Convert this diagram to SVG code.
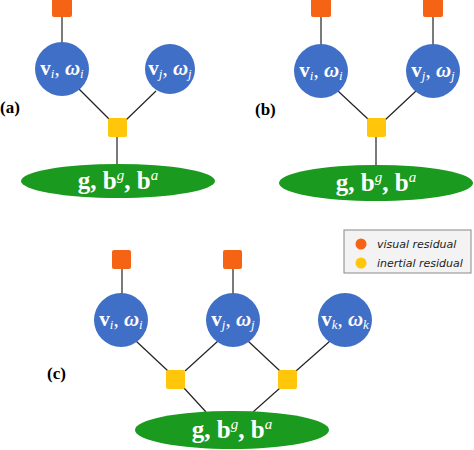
<svg xmlns="http://www.w3.org/2000/svg" width="474" height="450" viewBox="0 0 474 450">
<style>
.var{fill:#3f6fc6}
.vis{fill:#f46414}
.ine{fill:#ffc60a}
.bias{fill:#1a9a1f}
.edge{stroke:#222;stroke-width:1.2;fill:none}
.vt{font-family:"Liberation Serif",serif;font-size:21px;fill:#fff;text-anchor:middle}
.sb{font-size:13px;font-style:italic}
.bt{font-family:"Liberation Serif",serif;font-size:25px;font-weight:bold;fill:#fff;text-anchor:middle}
.sp{font-size:15px;font-weight:normal;font-style:italic}
.lab{font-family:"Liberation Serif",serif;font-size:17px;font-weight:bold;fill:#000}
.leg{font-family:"DejaVu Sans",sans-serif;font-size:11px;font-style:italic;fill:#222}
</style>
<rect width="474" height="450" fill="#fff"/>
<g id="connectors">
<line class="edge" x1="62" y1="16" x2="62" y2="43"/>
<line class="edge" x1="79" y1="89" x2="110" y2="120"/>
<line class="edge" x1="156" y1="91" x2="126" y2="120"/>
<line class="edge" x1="117" y1="137" x2="117" y2="166"/>
<line class="edge" x1="321" y1="16" x2="321" y2="45"/>
<line class="edge" x1="433" y1="16" x2="433" y2="45"/>
<line class="edge" x1="338" y1="91" x2="369" y2="120"/>
<line class="edge" x1="416" y1="91" x2="385" y2="120"/>
<line class="edge" x1="376" y1="137" x2="376" y2="165"/>
<line class="edge" x1="122" y1="268" x2="122" y2="295"/>
<line class="edge" x1="233" y1="268" x2="233" y2="295"/>
<line class="edge" x1="136" y1="341" x2="168" y2="371"/>
<line class="edge" x1="218" y1="341" x2="185" y2="371"/>
<line class="edge" x1="248" y1="341" x2="280" y2="371"/>
<line class="edge" x1="330" y1="341" x2="296" y2="371"/>
<line class="edge" x1="184" y1="388" x2="206" y2="412"/>
<line class="edge" x1="280" y1="388" x2="253" y2="412"/>
</g>
<g id="label-a"><text class="lab" x="0" y="113">(a)</text></g>
<g id="label-b"><text class="lab" x="255" y="115">(b)</text></g>
<g id="label-c"><text class="lab" x="47" y="379">(c)</text></g>
<g id="a-vis"><rect class="vis" x="52" y="-3" width="20" height="20" rx="2"/></g>
<g id="a-vi"><circle class="var" cx="62" cy="69" r="27"/><text class="vt" x="62" y="75"><tspan font-weight="bold">v</tspan><tspan class="sb" dy="3">i</tspan><tspan dy="-3">, </tspan><tspan font-weight="bold" font-style="italic">ω</tspan><tspan class="sb" dy="3">i</tspan></text></g>
<g id="a-vj"><circle class="var" cx="170" cy="69" r="25"/><text class="vt" x="170" y="75"><tspan font-weight="bold">v</tspan><tspan class="sb" dy="3">j</tspan><tspan dy="-3">, </tspan><tspan font-weight="bold" font-style="italic">ω</tspan><tspan class="sb" dy="3">j</tspan></text></g>
<g id="a-ine"><rect class="ine" x="108" y="118" width="19" height="19" rx="2"/></g>
<g id="a-bias"><ellipse class="bias" cx="118" cy="181" rx="97" ry="17"/><text class="bt" x="118" y="189">g, b<tspan class="sp" dy="-9">g</tspan><tspan dy="9">, b</tspan><tspan class="sp" dy="-9">a</tspan></text></g>
<g id="b-vis1"><rect class="vis" x="311" y="-3" width="20" height="20" rx="2"/></g>
<g id="b-vis2"><rect class="vis" x="423" y="-3" width="20" height="20" rx="2"/></g>
<g id="b-vi"><circle class="var" cx="321" cy="71" r="27"/><text class="vt" x="321" y="77"><tspan font-weight="bold">v</tspan><tspan class="sb" dy="3">i</tspan><tspan dy="-3">, </tspan><tspan font-weight="bold" font-style="italic">ω</tspan><tspan class="sb" dy="3">i</tspan></text></g>
<g id="b-vj"><circle class="var" cx="433" cy="71" r="27"/><text class="vt" x="433" y="77"><tspan font-weight="bold">v</tspan><tspan class="sb" dy="3">j</tspan><tspan dy="-3">, </tspan><tspan font-weight="bold" font-style="italic">ω</tspan><tspan class="sb" dy="3">j</tspan></text></g>
<g id="b-ine"><rect class="ine" x="367" y="118" width="19" height="19" rx="2"/></g>
<g id="b-bias"><ellipse class="bias" cx="376" cy="183" rx="97" ry="18"/><text class="bt" x="376" y="191">g, b<tspan class="sp" dy="-9">g</tspan><tspan dy="9">, b</tspan><tspan class="sp" dy="-9">a</tspan></text></g>
<g id="legend">
<rect x="344" y="230" width="127" height="43" fill="#f3f3f3" stroke="#888" stroke-width="1"/>
<circle class="vis" cx="361" cy="244" r="5.5"/>
<circle class="ine" cx="361" cy="263" r="5.5"/>
<text class="leg" x="377" y="248">visual residual</text>
<text class="leg" x="377" y="267">inertial residual</text>
</g>
<g id="c-vis1"><rect class="vis" x="112" y="250" width="19" height="19" rx="2"/></g>
<g id="c-vis2"><rect class="vis" x="223" y="250" width="19" height="19" rx="2"/></g>
<g id="c-vi"><circle class="var" cx="121" cy="320" r="27"/><text class="vt" x="121" y="326"><tspan font-weight="bold">v</tspan><tspan class="sb" dy="3">i</tspan><tspan dy="-3">, </tspan><tspan font-weight="bold" font-style="italic">ω</tspan><tspan class="sb" dy="3">i</tspan></text></g>
<g id="c-vj"><circle class="var" cx="233" cy="320" r="27"/><text class="vt" x="233" y="326"><tspan font-weight="bold">v</tspan><tspan class="sb" dy="3">j</tspan><tspan dy="-3">, </tspan><tspan font-weight="bold" font-style="italic">ω</tspan><tspan class="sb" dy="3">j</tspan></text></g>
<g id="c-vk"><circle class="var" cx="345" cy="320" r="27"/><text class="vt" x="345" y="326"><tspan font-weight="bold">v</tspan><tspan class="sb" dy="3">k</tspan><tspan dy="-3">, </tspan><tspan font-weight="bold" font-style="italic">ω</tspan><tspan class="sb" dy="3">k</tspan></text></g>
<g id="c-ine1"><rect class="ine" x="166" y="370" width="19" height="19" rx="2"/></g>
<g id="c-ine2"><rect class="ine" x="278" y="370" width="19" height="19" rx="2"/></g>
<g id="c-bias"><ellipse class="bias" cx="232" cy="430" rx="97" ry="19"/><text class="bt" x="232" y="438">g, b<tspan class="sp" dy="-9">g</tspan><tspan dy="9">, b</tspan><tspan class="sp" dy="-9">a</tspan></text></g>
</svg>
